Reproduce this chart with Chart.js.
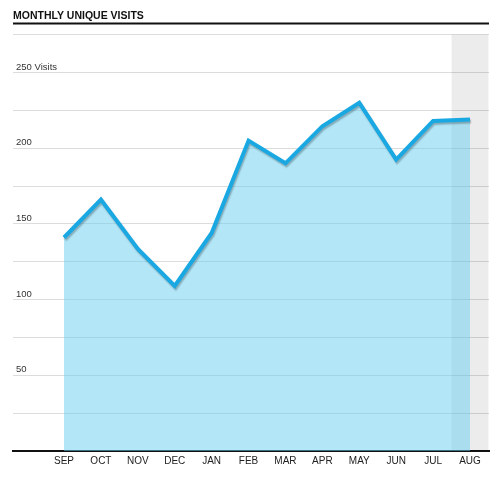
<!DOCTYPE html>
<html>
<head>
<meta charset="utf-8">
<script src="https://cdn.jsdelivr.net/npm/chart.js@4"></script>
<style>
  html, body { margin: 0; padding: 0; background: #fff; }
  #wrap { width: 500px; height: 484px; position: relative; }
</style>
</head>
<body>
<div id="wrap"><canvas id="c"></canvas></div>
<script>
const chartTitle = 'MONTHLY UNIQUE VISITS';
const months = ['SEP', 'OCT', 'NOV', 'DEC', 'JAN', 'FEB', 'MAR', 'APR', 'MAY', 'JUN', 'JUL', 'AUG'];
const visits = [141, 166, 133.5, 109, 144, 205, 190, 214.5, 230, 192.5, 218, 219];
const yLabelValues = [50, 100, 150, 200, 250];
const yLabelTexts = ['50', '100', '150', '200', '250 Visits'];
const highlightIndex = 11;

const FONT = "'Liberation Sans', Arial, Helvetica, sans-serif";

const bandPlugin = {
  id: 'band',
  beforeDatasetsDraw(chart) {
    const x = chart.scales.x, a = chart.chartArea, ctx = chart.ctx;
    const l = x.getPixelForValue(highlightIndex - 0.5);
    const r = x.getPixelForValue(highlightIndex + 0.5);
    ctx.save();
    ctx.fillStyle = 'rgba(0,0,0,0.075)';
    ctx.fillRect(l, a.top, r - l, a.bottom - a.top);
    ctx.restore();
  }
};

const shadowPlugin = {
  id: 'lineShadow',
  beforeDatasetDraw(chart) {
    const ctx = chart.ctx;
    ctx.save();
    ctx.shadowColor = 'rgba(40,60,70,0.35)';
    ctx.shadowOffsetX = 1;
    ctx.shadowOffsetY = 2;
    ctx.shadowBlur = 1.5;
  },
  afterDatasetDraw(chart) {
    chart.ctx.restore();
  }
};

const underlinePlugin = {
  id: 'underline',
  afterDraw(chart) {
    const a = chart.chartArea, ctx = chart.ctx;
    const y = a.top - 11;
    ctx.save();
    ctx.strokeStyle = '#111';
    ctx.lineWidth = 2;
    ctx.beginPath();
    ctx.moveTo(a.left, y);
    ctx.lineTo(a.right, y);
    ctx.stroke();
    ctx.restore();
  }
};

new Chart(document.getElementById('c'), {
  type: 'line',
  data: {
    datasets: [{
      label: 'Unique visits',
      data: visits.map((v, i) => ({ x: i, y: v })),
      borderColor: '#1aa8e3',
      borderWidth: 4,
      borderJoinStyle: 'miter',
      backgroundColor: 'rgba(103,207,241,0.5)',
      fill: 'origin',
      tension: 0,
      pointRadius: 0,
      pointHoverRadius: 0
    }]
  },
  options: {
    responsive: true,
    maintainAspectRatio: false,
    animation: false,
    layout: { padding: { left: 13, right: 11, top: 0, bottom: 13 } },
    plugins: {
      legend: { display: false },
      tooltip: { enabled: false },
      title: {
        display: true,
        text: chartTitle,
        align: 'start',
        color: '#111',
        font: { family: FONT, size: 10.5, weight: 'bold' },
        padding: { top: 10, bottom: 12 }
      }
    },
    scales: {
      x: {
        type: 'linear',
        min: -1.382,
        max: 11.515,
        grid: { display: false, drawTicks: false },
        border: { display: true, color: '#111', width: 2 },
        afterBuildTicks(scale) {
          scale.ticks = months.map((m, i) => ({ value: i }));
        },
        ticks: {
          autoSkip: false,
          maxRotation: 0,
          padding: 4,
          color: '#222',
          font: { family: FONT, size: 10 },
          callback: (v) => months[v]
        }
      },
      y: {
        min: 0,
        max: 275,
        afterFit(scale) { scale.width = 0; },
        grid: { color: '#dcdcdc', lineWidth: 1, drawTicks: false },
        border: { display: false },
        ticks: {
          stepSize: 25,
          mirror: true,
          padding: 3,
          labelOffset: -5.5,
          color: '#333',
          font: { family: FONT, size: 9.5 },
          callback: (v) => {
            const k = yLabelValues.indexOf(v);
            return k >= 0 ? yLabelTexts[k] : '';
          }
        }
      }
    }
  },
  plugins: [bandPlugin, shadowPlugin, underlinePlugin]
});
</script>
</body>
</html>
